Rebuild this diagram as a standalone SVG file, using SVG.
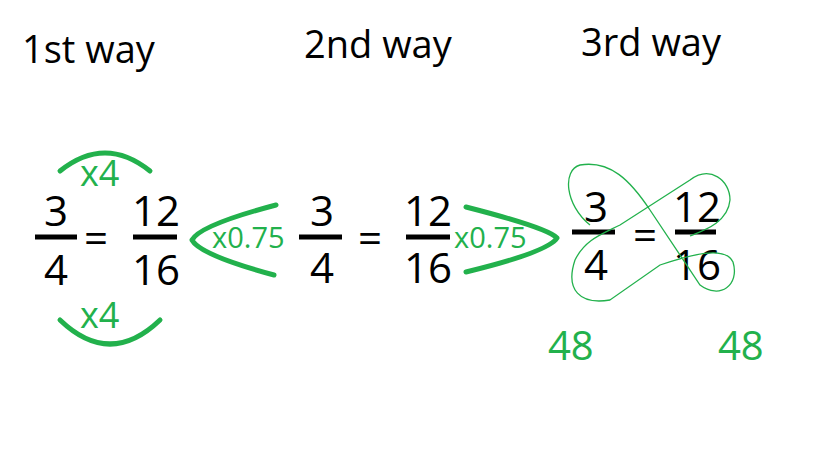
<svg xmlns="http://www.w3.org/2000/svg" width="819" height="460" viewBox="0 0 819 460">
<style>
.t{font-family:"Open Sans","Liberation Sans",sans-serif;fill:#000}
.h{font-size:38px}
.n{font-size:42px;text-anchor:middle}
.g{font-family:"Open Sans","Liberation Sans",sans-serif;fill:#22b14c}
.bar{stroke:#000;stroke-width:5}
.arc{fill:none;stroke:#22b14c;stroke-width:5;stroke-linecap:round;stroke-linejoin:round}
.thin{fill:none;stroke:#22b14c;stroke-width:1.3}
</style>
<rect width="819" height="460" fill="#fff"/>
<g id="titles">
<text class="t h" x="22" y="63">1st way</text>
<text class="t h" x="304" y="58">2nd way</text>
<text class="t h" x="581" y="56">3rd way</text>
</g>
<g id="way1">
<text class="t n" x="56" y="226">3</text><line class="bar" x1="35" y1="237" x2="77" y2="237"/><text class="t n" x="56" y="285">4</text>
<text class="t n" x="96" y="253">=</text>
<text class="t n" x="156" y="226">12</text><line class="bar" x1="133" y1="237" x2="177" y2="237"/><text class="t n" x="156" y="285">16</text>
<text class="g" x="80" y="186" font-size="36">x4</text>
<text class="g" x="80" y="328" font-size="36">x4</text>
</g>
<g id="way2">
<text class="g" x="212" y="248" font-size="29">x0.75</text>
<text class="t n" x="322" y="226">3</text><line class="bar" x1="299" y1="237" x2="342" y2="237"/><text class="t n" x="322" y="283">4</text>
<text class="t n" x="370" y="253">=</text>
<text class="t n" x="428" y="226">12</text><line class="bar" x1="406" y1="237" x2="450" y2="237"/><text class="t n" x="428" y="283">16</text>
<text class="g" x="454" y="248" font-size="29">x0.75</text>
</g>
<g id="way3">
<text class="t n" x="596" y="222">3</text><line class="bar" x1="572" y1="232" x2="615" y2="232"/><text class="t n" x="596" y="280">4</text>
<text class="t n" x="645" y="250">=</text>
<text class="t n" x="697" y="222">12</text><line class="bar" x1="675" y1="232" x2="716" y2="232"/><text class="t n" x="697" y="280">16</text>
<text class="g" x="548" y="360" font-size="40">48</text>
<text class="g" x="718" y="360" font-size="40">48</text>
</g>
<g id="connectors">
<path class="arc" d="M60,171 Q105,135 150,171"/>
<path class="arc" d="M60,320 Q110,368 160,320"/>
<path class="arc" d="M276,205 Q200,225 192,240 Q200,255 274,275"/>
<path class="arc" d="M466,207 Q548,228 557,238 Q548,252 466,272"/>
<path class="thin" d="M590,225 C565,205 562,170 580,165 C610,160 630,180 650,210 L700,285 C720,300 740,285 733,262 C725,245 690,255 660,265 L610,300 C580,305 565,290 575,260 C585,240 600,235 620,225 L690,180 C710,165 730,180 730,200 C728,222 705,230 690,236"/>
</g>
</svg>
